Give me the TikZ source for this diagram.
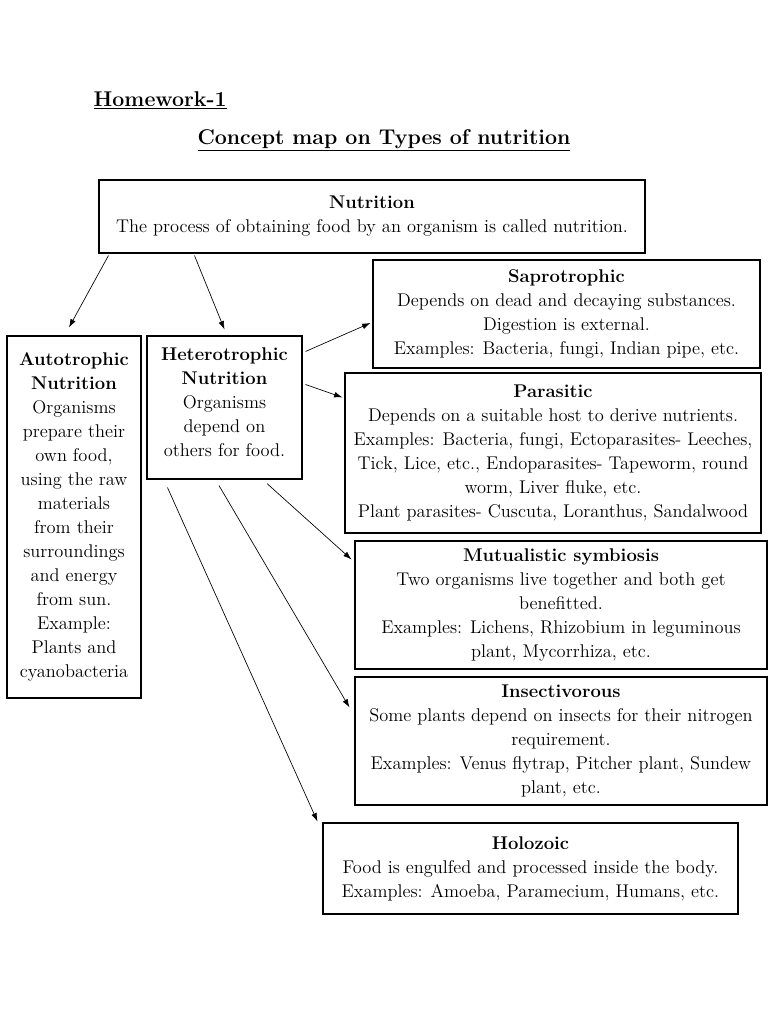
\documentclass[tikz,border=0pt]{standalone}
\usetikzlibrary{arrows.meta, positioning, calc}

\begin{document}
\begin{tikzpicture}[
    x=0.75pt, y=-0.75pt,
    box/.style={draw, line width=0.8pt, align=center, inner sep=0pt, font=\fontsize{13.8}{18}\selectfont},
    heading/.style={font=\fontsize{16}{20}\selectfont\bfseries},
    link/.style={-{Latex[length=2.2mm, width=1.5mm]}, line width=0.5pt}
]
    \path[use as bounding box] (0,0) rectangle (768,1024);

    % Headings
    \node[heading, anchor=west] (hw) at (89,100) {\underline{Homework-1}};
    \node[heading] (title) at (384,140) {\underline{Concept map on Types of nutrition}};

    % Boxes
    \node[box, minimum width=409.5pt, minimum height=54.75pt] (nut) at (372,216.5)
        {\textbf{Nutrition}\\The process of obtaining food by an organism is called nutrition.};
    \node[box, minimum width=100.5pt, minimum height=271.5pt] (auto) at (74,517)
        {\textbf{Autotrophic}\\\textbf{Nutrition}\\Organisms\\prepare their\\own food,\\using the raw\\materials\\from their\\surroundings\\and energy\\from sun.\\Example:\\Plants and\\cyanobacteria};
    \node[box, minimum width=116.25pt, minimum height=107.25pt] (het) at (224.5,407.5)
        {\textbf{Heterotrophic}\\\textbf{Nutrition}\\Organisms\\depend on\\others for food.\vspace{8pt}};
    \node[box, minimum width=290.25pt, minimum height=81pt] (sap) at (566.5,314)
        {\textbf{Saprotrophic}\\Depends on dead and decaying substances.\\Digestion is external.\\Examples: Bacteria, fungi, Indian pipe, etc.};
    \node[box, minimum width=312pt, minimum height=120pt] (par) at (553,453)
        {\textbf{Parasitic}\\Depends on a suitable host to derive nutrients.\\Examples: Bacteria, fungi, Ectoparasites- Leeches,\\Tick, Lice, etc., Endoparasites- Tapeworm, round\\worm, Liver fluke, etc.\\Plant parasites- Cuscuta, Loranthus, Sandalwood};
    \node[box, minimum width=309pt, minimum height=96pt] (mut) at (561,605)
        {\textbf{Mutualistic symbiosis}\\Two organisms live together and both get\\benefitted.\\Examples: Lichens, Rhizobium in leguminous\\plant, Mycorrhiza, etc.};
    \node[box, minimum width=309pt, minimum height=96pt] (ins) at (561,741)
        {\textbf{Insectivorous}\\Some plants depend on insects for their nitrogen\\requirement.\\Examples: Venus flytrap, Pitcher plant, Sundew\\plant, etc.};
    \node[box, minimum width=311.25pt, minimum height=68.25pt] (hol) at (530.5,868.5)
        {\textbf{Holozoic}\\Food is engulfed and processed inside the body.\\Examples: Amoeba, Paramecium, Humans, etc.};

    % Arrows
    \draw[link] ($(nut.south west)+(10,2)$) -- ($(auto.north)+(-5,-8)$);
    \draw[link] ($(nut.south west)+(96,2)$) -- ($(het.north)+(0,-6)$);
    \draw[link] ($(het.north east)+(3,16)$) -- ($(sap.west)+(-2,9)$);
    \draw[link] ($(het.north east)+(3,49)$) -- ($(par.north west)+(-2,25)$);
    \draw[link] ($(het.south)+(42.5,4)$) -- ($(mut.north west)+(-3,19)$);
    \draw[link] ($(het.south)+(-5.5,6)$) -- ($(ins.north west)+(-5,31)$);
    \draw[link] ($(het.south west)+(21,8)$) -- ($(hol.north west)+(-5,-1)$);
\end{tikzpicture}
\end{document}
